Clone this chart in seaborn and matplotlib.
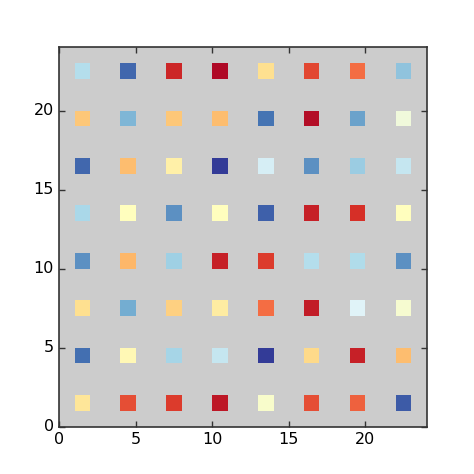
import numpy as np
import matplotlib
matplotlib.use("Agg")
import matplotlib.pyplot as plt
import seaborn as sns

# cell values (0..1) per row, bottom row first, left to right
row_1 = [0.58, 0.85, 0.88, 0.95, 0.48, 0.85, 0.82, 0.06]
row_2 = [0.09, 0.52, 0.29, 0.35, 0.01, 0.61, 0.93, 0.67]
row_3 = [0.60, 0.20, 0.63, 0.56, 0.80, 0.94, 0.40, 0.47]
row_4 = [0.15, 0.68, 0.28, 0.93, 0.88, 0.32, 0.31, 0.15]
row_5 = [0.30, 0.50, 0.15, 0.50, 0.07, 0.93, 0.90, 0.50]
row_6 = [0.08, 0.67, 0.55, 0.01, 0.38, 0.15, 0.27, 0.35]
row_7 = [0.65, 0.22, 0.65, 0.67, 0.10, 0.97, 0.18, 0.45]
row_8 = [0.32, 0.08, 0.92, 0.98, 0.60, 0.86, 0.80, 0.25]

ticks = [0, 5, 10, 15, 20]

rows = [row_1, row_2, row_3, row_4, row_5, row_6, row_7, row_8]
grid = np.full((24, 24), np.nan)
for r, vals in enumerate(rows):
    for c, v in enumerate(vals):
        grid[3 * r + 1, 3 * c + 1] = v

sns.set_style("ticks")
plt.rcParams["font.family"] = ["DejaVu Sans"]

fig = plt.figure(figsize=(4.74, 4.74), dpi=100)
ax = fig.add_axes([0.125, 0.1, 0.775, 0.8])
ax.set_facecolor("#cccccc")

sns.heatmap(grid, cmap="RdYlBu_r", vmin=0, vmax=1, cbar=False, ax=ax)
ax.invert_yaxis()

ax.set_xlim(0, 24)
ax.set_ylim(0, 24)
ax.set_xticks(ticks)
ax.set_xticklabels(ticks, rotation=0)
ax.set_yticks(ticks)
ax.set_yticklabels(ticks, rotation=0)
ax.tick_params(direction="in", top=True, right=True, length=4, width=1,
               labelsize=11.5, color="#333333", labelcolor="black", pad=4)
for s in ax.spines.values():
    s.set_visible(True)
    s.set_linewidth(1.2)
    s.set_color("#333333")

fig.savefig("out.png", dpi=100)
